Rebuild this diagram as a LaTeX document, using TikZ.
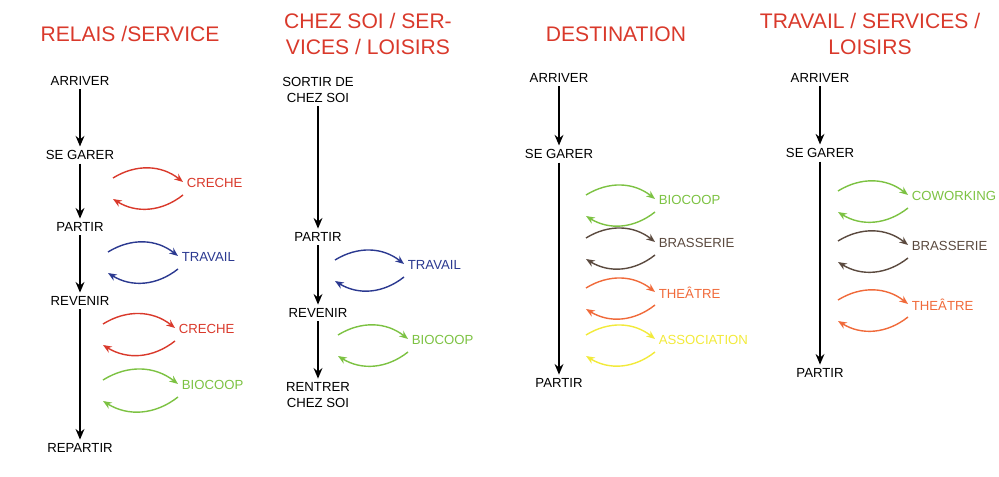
\documentclass[tikz,border=0pt]{standalone}
\usepackage{fontspec}
\setmainfont{Liberation Sans}
\usetikzlibrary{arrows.meta}
\definecolor{cred}{HTML}{D9392B}
\definecolor{cblue}{HTML}{2B3990}
\definecolor{cgreen}{HTML}{7CC242}
\definecolor{cbrown}{HTML}{5B4A3F}
\definecolor{corange}{HTML}{F06A3A}
\definecolor{cyellow}{HTML}{F2EA3A}
\tikzset{
  lbl/.style={font=\fontsize{7.5}{9}\selectfont, align=center, inner sep=2pt},
  ttl/.style={font=\fontsize{12}{15}\selectfont, text=cred, align=center},
  varrow/.style={-{Stealth[length=6pt,width=5pt]}, line width=1.4pt},
  larrow/.style={-{Stealth[length=5pt,width=4pt]}, line width=0.8pt},
}
% #1 name, #2 xl, #3 xr, #4 ytop, #5 ybot, #6 colour, #7 text
\newcommand\myloop[7]{%
  \coordinate (#1tl) at (#2,#4); \coordinate (#1tr) at (#3,#4+4);
  \coordinate (#1br) at (#3,#5-4); \coordinate (#1bl) at (#2,#5);
  \draw[larrow,#6] (#1tl) to[bend left=35] (#1tr);
  \draw[larrow,#6] (#1br) to[bend left=35] (#1bl);
  \node[lbl,text=#6,anchor=west] (#1t) at (#3,#4+5) {#7};}
\newcommand\vconn[2]{\draw[varrow] (#1.south) -- (#1.south |- #2.north);}
\begin{document}
\begin{tikzpicture}[x=0.02cm,y=-0.02cm]
\useasboundingbox (0,0) rectangle (999,476);
% column 1
\node[ttl] (t1) at (130,34) {RELAIS /SERVICE};
\node[lbl] (a1) at (80,81) {ARRIVER};
\node[lbl] (a2) at (80,155) {SE GARER};
\node[lbl] (a3) at (80,227) {PARTIR};
\node[lbl] (a4) at (80,301) {REVENIR};
\node[lbl] (a5) at (80,448) {REPARTIR};
\vconn{a1}{a2} \vconn{a2}{a3} \vconn{a3}{a4} \vconn{a4}{a5}
\myloop{l1}{113}{183}{178}{199}{cred}{CRECHE}
\myloop{l2}{108}{178}{252}{273}{cblue}{TRAVAIL}
\myloop{l3}{103}{175}{324}{345}{cred}{CRECHE}
\myloop{l4}{103}{178}{380}{401}{cgreen}{BIOCOOP}
% column 2
\node[ttl] (t2) at (368,34) {CHEZ SOI / SER-\\VICES / LOISIRS};
\node[lbl] (b1) at (318,90) {SORTIR DE\\CHEZ SOI};
\node[lbl] (b2) at (318,237) {PARTIR};
\node[lbl] (b3) at (318,313) {REVENIR};
\node[lbl] (b4) at (318,395) {RENTRER\\CHEZ SOI};
\vconn{b1}{b2} \vconn{b2}{b3} \vconn{b3}{b4}
\myloop{m1}{335}{404}{260}{281}{cblue}{TRAVAIL}
\myloop{m2}{338}{408}{335}{356}{cgreen}{BIOCOOP}
% column 3
\node[ttl] (t3) at (616,34) {DESTINATION};
\node[lbl] (c1) at (559,78) {ARRIVER};
\node[lbl] (c2) at (559,154) {SE GARER};
\node[lbl] (c3) at (559,383) {PARTIR};
\vconn{c1}{c2} \vconn{c2}{c3}
\myloop{n1}{586}{655}{195}{216}{cgreen}{BIOCOOP}
\myloop{n2}{586}{655}{238}{259}{cbrown}{BRASSERIE}
\myloop{n3}{586}{655}{288}{309}{corange}{THEÂTRE}
\myloop{n4}{586}{655}{335}{356}{cyellow}{ASSOCIATION}
% column 4
\node[ttl] (t4) at (870,34) {TRAVAIL / SERVICES /\\LOISIRS};
\node[lbl] (d1) at (820,78) {ARRIVER};
\node[lbl] (d2) at (820,153) {SE GARER};
\node[lbl] (d3) at (820,373) {PARTIR};
\vconn{d1}{d2} \vconn{d2}{d3}
\myloop{p1}{838}{908}{191}{212}{cgreen}{COWORKING}
\myloop{p2}{838}{908}{241}{262}{cbrown}{BRASSERIE}
\myloop{p3}{838}{908}{300}{321}{corange}{THEÂTRE}
\end{tikzpicture}
\end{document}
